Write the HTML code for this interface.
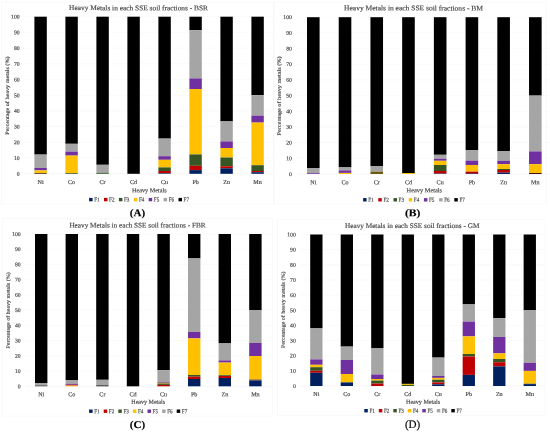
<!DOCTYPE html>
<html lang="en"><head><meta charset="utf-8"><title>Heavy Metals in each SSE soil fractions</title>
<style>html,body{margin:0;padding:0;background:#fff}svg{display:block}text{font-family:"Liberation Serif","DejaVu Serif",serif}.t{stroke:#444;stroke-width:.16}</style></head><body>
<svg width="550" height="432" viewBox="0 0 550 432">
<rect width="550" height="432" fill="#fff"/>
<g id="chart-A">
<rect x="1.6" y="2" width="272" height="202" fill="none" stroke="#f4f4f4" stroke-width="0.5"/>
<line x1="24.9" x2="273.3" y1="173.8" y2="173.8" stroke="#ebebeb" stroke-width="0.5"/>
<text transform="translate(19.6 175.68) rotate(0.05)" class="t" font-size="5.7" fill="#444444" text-anchor="end">0</text>
<line x1="24.9" x2="273.3" y1="158.09" y2="158.09" stroke="#f5f5f5" stroke-width="0.5"/>
<text transform="translate(19.6 159.97) rotate(0.05)" class="t" font-size="5.7" fill="#444444" text-anchor="end">10</text>
<line x1="24.9" x2="273.3" y1="142.38" y2="142.38" stroke="#f5f5f5" stroke-width="0.5"/>
<text transform="translate(19.6 144.26) rotate(0.05)" class="t" font-size="5.7" fill="#444444" text-anchor="end">20</text>
<line x1="24.9" x2="273.3" y1="126.67" y2="126.67" stroke="#f5f5f5" stroke-width="0.5"/>
<text transform="translate(19.6 128.55) rotate(0.05)" class="t" font-size="5.7" fill="#444444" text-anchor="end">30</text>
<line x1="24.9" x2="273.3" y1="110.96" y2="110.96" stroke="#f5f5f5" stroke-width="0.5"/>
<text transform="translate(19.6 112.84) rotate(0.05)" class="t" font-size="5.7" fill="#444444" text-anchor="end">40</text>
<line x1="24.9" x2="273.3" y1="95.25" y2="95.25" stroke="#f5f5f5" stroke-width="0.5"/>
<text transform="translate(19.6 97.13) rotate(0.05)" class="t" font-size="5.7" fill="#444444" text-anchor="end">50</text>
<line x1="24.9" x2="273.3" y1="79.54" y2="79.54" stroke="#f5f5f5" stroke-width="0.5"/>
<text transform="translate(19.6 81.42) rotate(0.05)" class="t" font-size="5.7" fill="#444444" text-anchor="end">60</text>
<line x1="24.9" x2="273.3" y1="63.83" y2="63.83" stroke="#f5f5f5" stroke-width="0.5"/>
<text transform="translate(19.6 65.71) rotate(0.05)" class="t" font-size="5.7" fill="#444444" text-anchor="end">70</text>
<line x1="24.9" x2="273.3" y1="48.12" y2="48.12" stroke="#f5f5f5" stroke-width="0.5"/>
<text transform="translate(19.6 50) rotate(0.05)" class="t" font-size="5.7" fill="#444444" text-anchor="end">80</text>
<line x1="24.9" x2="273.3" y1="32.41" y2="32.41" stroke="#f5f5f5" stroke-width="0.5"/>
<text transform="translate(19.6 34.29) rotate(0.05)" class="t" font-size="5.7" fill="#444444" text-anchor="end">90</text>
<line x1="24.9" x2="273.3" y1="16.7" y2="16.7" stroke="#f5f5f5" stroke-width="0.5"/>
<text transform="translate(19.6 18.58) rotate(0.05)" class="t" font-size="5.7" fill="#444444" text-anchor="end">100</text>
<rect x="34.4" y="16.7" width="12.4" height="137.9" fill="#000000"/>
<rect x="34.4" y="154.6" width="12.4" height="13.4" fill="#A5A5A5"/>
<rect x="34.4" y="168" width="12.4" height="2.4" fill="#7030A0"/>
<rect x="34.4" y="170.4" width="12.4" height="2.6" fill="#FFC000"/>
<rect x="34.4" y="173" width="12.4" height="0.8" fill="#4a2a14"/>
<text transform="translate(40.6 184.01) rotate(0.05)" class="t" font-size="6.1" fill="#444444" text-anchor="middle">Ni</text>
<rect x="65.4" y="16.7" width="12.4" height="127.1" fill="#000000"/>
<rect x="65.4" y="143.8" width="12.4" height="7.8" fill="#A5A5A5"/>
<rect x="65.4" y="151.6" width="12.4" height="4" fill="#7030A0"/>
<rect x="65.4" y="155.6" width="12.4" height="17.4" fill="#FFC000"/>
<rect x="65.4" y="173" width="12.4" height="0.8" fill="#375623"/>
<text transform="translate(71.6 184.01) rotate(0.05)" class="t" font-size="6.1" fill="#444444" text-anchor="middle">Co</text>
<rect x="96.4" y="16.7" width="12.4" height="148.1" fill="#000000"/>
<rect x="96.4" y="164.8" width="12.4" height="8" fill="#A5A5A5"/>
<rect x="96.4" y="172.8" width="12.4" height="1" fill="#375623"/>
<text transform="translate(102.6 184.01) rotate(0.05)" class="t" font-size="6.1" fill="#444444" text-anchor="middle">Cr</text>
<rect x="127.4" y="16.7" width="12.4" height="157.1" fill="#000000"/>
<text transform="translate(133.6 184.01) rotate(0.05)" class="t" font-size="6.1" fill="#444444" text-anchor="middle">Cd</text>
<rect x="158.4" y="16.7" width="12.4" height="121.9" fill="#000000"/>
<rect x="158.4" y="138.6" width="12.4" height="17.6" fill="#A5A5A5"/>
<rect x="158.4" y="156.2" width="12.4" height="3.6" fill="#7030A0"/>
<rect x="158.4" y="159.8" width="12.4" height="7.6" fill="#FFC000"/>
<rect x="158.4" y="167.4" width="12.4" height="3.6" fill="#375623"/>
<rect x="158.4" y="171" width="12.4" height="2.2" fill="#C00000"/>
<rect x="158.4" y="173.2" width="12.4" height="0.6" fill="#002060"/>
<text transform="translate(164.6 184.01) rotate(0.05)" class="t" font-size="6.1" fill="#444444" text-anchor="middle">Cu</text>
<rect x="189.4" y="16.7" width="12.4" height="13.5" fill="#000000"/>
<rect x="189.4" y="30.2" width="12.4" height="48.2" fill="#A5A5A5"/>
<rect x="189.4" y="78.4" width="12.4" height="10.6" fill="#7030A0"/>
<rect x="189.4" y="89" width="12.4" height="65.4" fill="#FFC000"/>
<rect x="189.4" y="154.4" width="12.4" height="11.4" fill="#375623"/>
<rect x="189.4" y="165.8" width="12.4" height="4.3" fill="#C00000"/>
<rect x="189.4" y="170.1" width="12.4" height="3.7" fill="#002060"/>
<text transform="translate(195.6 184.01) rotate(0.05)" class="t" font-size="6.1" fill="#444444" text-anchor="middle">Pb</text>
<rect x="220.4" y="16.7" width="12.4" height="104.7" fill="#000000"/>
<rect x="220.4" y="121.4" width="12.4" height="20" fill="#A5A5A5"/>
<rect x="220.4" y="141.4" width="12.4" height="6.6" fill="#7030A0"/>
<rect x="220.4" y="148" width="12.4" height="9.5" fill="#FFC000"/>
<rect x="220.4" y="157.5" width="12.4" height="8.7" fill="#375623"/>
<rect x="220.4" y="166.2" width="12.4" height="2.1" fill="#C00000"/>
<rect x="220.4" y="168.3" width="12.4" height="5.5" fill="#002060"/>
<text transform="translate(226.6 184.01) rotate(0.05)" class="t" font-size="6.1" fill="#444444" text-anchor="middle">Zn</text>
<rect x="251.4" y="16.7" width="12.4" height="78.5" fill="#000000"/>
<rect x="251.4" y="95.2" width="12.4" height="20.4" fill="#A5A5A5"/>
<rect x="251.4" y="115.6" width="12.4" height="7" fill="#7030A0"/>
<rect x="251.4" y="122.6" width="12.4" height="42.6" fill="#FFC000"/>
<rect x="251.4" y="165.2" width="12.4" height="5.8" fill="#375623"/>
<rect x="251.4" y="171" width="12.4" height="1.2" fill="#C00000"/>
<rect x="251.4" y="172.2" width="12.4" height="1.6" fill="#002060"/>
<text transform="translate(257.6 184.01) rotate(0.05)" class="t" font-size="6.1" fill="#444444" text-anchor="middle">Mn</text>
<text transform="translate(69.1 10.1) rotate(0.05)" class="t" font-size="7.0" fill="#444444" textLength="138.9" lengthAdjust="spacingAndGlyphs">Heavy Metals in each SSE soil fractions - BSR</text>
<text transform="translate(132 192.13) rotate(0.05)" class="t" font-size="6.1" fill="#444444" textLength="34.6" lengthAdjust="spacingAndGlyphs">Heavy Metals</text>
<text transform="translate(8.9 134.8) rotate(-89.95)" class="t" font-size="5.2" fill="#444444" textLength="78.4" lengthAdjust="spacingAndGlyphs">Percentage of heavy metals (%)</text>
<rect x="89.1" y="197.9" width="3.5" height="3.4" fill="#002060"/>
<text transform="translate(94.2 201.58) rotate(0.05)" class="t" font-size="6.0" fill="#444444" textLength="5.4" lengthAdjust="spacingAndGlyphs">F1</text>
<rect x="104" y="197.9" width="3.5" height="3.4" fill="#C00000"/>
<text transform="translate(109.1 201.58) rotate(0.05)" class="t" font-size="6.0" fill="#444444" textLength="5.4" lengthAdjust="spacingAndGlyphs">F2</text>
<rect x="118.9" y="197.9" width="3.5" height="3.4" fill="#375623"/>
<text transform="translate(124 201.58) rotate(0.05)" class="t" font-size="6.0" fill="#444444" textLength="5.4" lengthAdjust="spacingAndGlyphs">F3</text>
<rect x="133.8" y="197.9" width="3.5" height="3.4" fill="#FFC000"/>
<text transform="translate(138.9 201.58) rotate(0.05)" class="t" font-size="6.0" fill="#444444" textLength="5.4" lengthAdjust="spacingAndGlyphs">F4</text>
<rect x="148.7" y="197.9" width="3.5" height="3.4" fill="#7030A0"/>
<text transform="translate(153.8 201.58) rotate(0.05)" class="t" font-size="6.0" fill="#444444" textLength="5.4" lengthAdjust="spacingAndGlyphs">F5</text>
<rect x="163.6" y="197.9" width="3.5" height="3.4" fill="#A5A5A5"/>
<text transform="translate(168.7 201.58) rotate(0.05)" class="t" font-size="6.0" fill="#444444" textLength="5.4" lengthAdjust="spacingAndGlyphs">F6</text>
<rect x="178.5" y="197.9" width="3.5" height="3.4" fill="#000000"/>
<text transform="translate(183.6 201.58) rotate(0.05)" class="t" font-size="6.0" fill="#444444" textLength="5.4" lengthAdjust="spacingAndGlyphs">F7</text>
<text transform="translate(129.8 216.2) rotate(0.05)" font-size="10.4" font-weight="bold" fill="#000" stroke="#000" stroke-width="0.15" textLength="15.4" lengthAdjust="spacingAndGlyphs">(A)</text>
</g>
<g id="chart-B">
<rect x="274" y="2" width="272.5" height="202" fill="none" stroke="#f4f4f4" stroke-width="0.5"/>
<line x1="297.5" x2="551.14" y1="174" y2="174" stroke="#ebebeb" stroke-width="0.5"/>
<text transform="translate(291.9 175.88) rotate(0.05)" class="t" font-size="5.7" fill="#444444" text-anchor="end">0</text>
<line x1="297.5" x2="551.14" y1="158.32" y2="158.32" stroke="#f5f5f5" stroke-width="0.5"/>
<text transform="translate(291.9 160.2) rotate(0.05)" class="t" font-size="5.7" fill="#444444" text-anchor="end">10</text>
<line x1="297.5" x2="551.14" y1="142.64" y2="142.64" stroke="#f5f5f5" stroke-width="0.5"/>
<text transform="translate(291.9 144.52) rotate(0.05)" class="t" font-size="5.7" fill="#444444" text-anchor="end">20</text>
<line x1="297.5" x2="551.14" y1="126.96" y2="126.96" stroke="#f5f5f5" stroke-width="0.5"/>
<text transform="translate(291.9 128.84) rotate(0.05)" class="t" font-size="5.7" fill="#444444" text-anchor="end">30</text>
<line x1="297.5" x2="551.14" y1="111.28" y2="111.28" stroke="#f5f5f5" stroke-width="0.5"/>
<text transform="translate(291.9 113.16) rotate(0.05)" class="t" font-size="5.7" fill="#444444" text-anchor="end">40</text>
<line x1="297.5" x2="551.14" y1="95.6" y2="95.6" stroke="#f5f5f5" stroke-width="0.5"/>
<text transform="translate(291.9 97.48) rotate(0.05)" class="t" font-size="5.7" fill="#444444" text-anchor="end">50</text>
<line x1="297.5" x2="551.14" y1="79.92" y2="79.92" stroke="#f5f5f5" stroke-width="0.5"/>
<text transform="translate(291.9 81.8) rotate(0.05)" class="t" font-size="5.7" fill="#444444" text-anchor="end">60</text>
<line x1="297.5" x2="551.14" y1="64.24" y2="64.24" stroke="#f5f5f5" stroke-width="0.5"/>
<text transform="translate(291.9 66.12) rotate(0.05)" class="t" font-size="5.7" fill="#444444" text-anchor="end">70</text>
<line x1="297.5" x2="551.14" y1="48.56" y2="48.56" stroke="#f5f5f5" stroke-width="0.5"/>
<text transform="translate(291.9 50.44) rotate(0.05)" class="t" font-size="5.7" fill="#444444" text-anchor="end">80</text>
<line x1="297.5" x2="551.14" y1="32.88" y2="32.88" stroke="#f5f5f5" stroke-width="0.5"/>
<text transform="translate(291.9 34.76) rotate(0.05)" class="t" font-size="5.7" fill="#444444" text-anchor="end">90</text>
<line x1="297.5" x2="551.14" y1="17.2" y2="17.2" stroke="#f5f5f5" stroke-width="0.5"/>
<text transform="translate(291.9 19.08) rotate(0.05)" class="t" font-size="5.7" fill="#444444" text-anchor="end">100</text>
<rect x="307" y="17.2" width="12.6" height="150.8" fill="#000000"/>
<rect x="307" y="168" width="12.6" height="5.2" fill="#A5A5A5"/>
<rect x="307" y="173.2" width="12.6" height="0.8" fill="#7030A0"/>
<text transform="translate(313.3 184.21) rotate(0.05)" class="t" font-size="6.1" fill="#444444" text-anchor="middle">Ni</text>
<rect x="338.72" y="17.2" width="12.6" height="150.2" fill="#000000"/>
<rect x="338.72" y="167.4" width="12.6" height="3" fill="#A5A5A5"/>
<rect x="338.72" y="170.4" width="12.6" height="2.5" fill="#7030A0"/>
<rect x="338.72" y="172.9" width="12.6" height="1.1" fill="#FFC000"/>
<text transform="translate(345.02 184.21) rotate(0.05)" class="t" font-size="6.1" fill="#444444" text-anchor="middle">Co</text>
<rect x="370.44" y="17.2" width="12.6" height="148.8" fill="#000000"/>
<rect x="370.44" y="166" width="12.6" height="5.6" fill="#A5A5A5"/>
<rect x="370.44" y="171.6" width="12.6" height="2.4" fill="#6b5a10"/>
<text transform="translate(376.74 184.21) rotate(0.05)" class="t" font-size="6.1" fill="#444444" text-anchor="middle">Cr</text>
<rect x="402.16" y="17.2" width="12.6" height="155.8" fill="#000000"/>
<rect x="402.16" y="173" width="12.6" height="1" fill="#FFC000"/>
<text transform="translate(408.46 184.21) rotate(0.05)" class="t" font-size="6.1" fill="#444444" text-anchor="middle">Cd</text>
<rect x="433.88" y="17.2" width="12.6" height="137.6" fill="#000000"/>
<rect x="433.88" y="154.8" width="12.6" height="4" fill="#A5A5A5"/>
<rect x="433.88" y="158.8" width="12.6" height="2" fill="#7030A0"/>
<rect x="433.88" y="160.8" width="12.6" height="4.2" fill="#FFC000"/>
<rect x="433.88" y="165" width="12.6" height="6" fill="#375623"/>
<rect x="433.88" y="171" width="12.6" height="2.6" fill="#C00000"/>
<rect x="433.88" y="173.6" width="12.6" height="0.4" fill="#002060"/>
<text transform="translate(440.18 184.21) rotate(0.05)" class="t" font-size="6.1" fill="#444444" text-anchor="middle">Cu</text>
<rect x="465.6" y="17.2" width="12.6" height="132.8" fill="#000000"/>
<rect x="465.6" y="150" width="12.6" height="10.6" fill="#A5A5A5"/>
<rect x="465.6" y="160.6" width="12.6" height="4.4" fill="#7030A0"/>
<rect x="465.6" y="165" width="12.6" height="6.6" fill="#FFC000"/>
<rect x="465.6" y="171.6" width="12.6" height="1.6" fill="#C00000"/>
<rect x="465.6" y="173.2" width="12.6" height="0.8" fill="#4a0a20"/>
<text transform="translate(471.9 184.21) rotate(0.05)" class="t" font-size="6.1" fill="#444444" text-anchor="middle">Pb</text>
<rect x="497.32" y="17.2" width="12.6" height="133.8" fill="#000000"/>
<rect x="497.32" y="151" width="12.6" height="9.8" fill="#A5A5A5"/>
<rect x="497.32" y="160.8" width="12.6" height="3.4" fill="#7030A0"/>
<rect x="497.32" y="164.2" width="12.6" height="4.8" fill="#FFC000"/>
<rect x="497.32" y="169" width="12.6" height="1" fill="#375623"/>
<rect x="497.32" y="170" width="12.6" height="2.6" fill="#C00000"/>
<rect x="497.32" y="172.6" width="12.6" height="1.4" fill="#002060"/>
<text transform="translate(503.62 184.21) rotate(0.05)" class="t" font-size="6.1" fill="#444444" text-anchor="middle">Zn</text>
<rect x="529.04" y="17.2" width="12.6" height="78.4" fill="#000000"/>
<rect x="529.04" y="95.6" width="12.6" height="55.8" fill="#A5A5A5"/>
<rect x="529.04" y="151.4" width="12.6" height="12.8" fill="#7030A0"/>
<rect x="529.04" y="164.2" width="12.6" height="8.8" fill="#FFC000"/>
<rect x="529.04" y="173" width="12.6" height="1" fill="#4a0a20"/>
<text transform="translate(535.34 184.21) rotate(0.05)" class="t" font-size="6.1" fill="#444444" text-anchor="middle">Mn</text>
<text transform="translate(344.1 10.3) rotate(0.05)" class="t" font-size="7.0" fill="#444444" textLength="138.9" lengthAdjust="spacingAndGlyphs">Heavy Metals in each SSE soil fractions - BM</text>
<text transform="translate(406.6 192.23) rotate(0.05)" class="t" font-size="6.1" fill="#444444" textLength="35.4" lengthAdjust="spacingAndGlyphs">Heavy Metals</text>
<text transform="translate(280.8 135.4) rotate(-89.95)" class="t" font-size="5.2" fill="#444444" textLength="78.9" lengthAdjust="spacingAndGlyphs">Percentage of heavy metals (%)</text>
<rect x="363.1" y="198.1" width="3.5" height="3.4" fill="#002060"/>
<text transform="translate(368.2 201.78) rotate(0.05)" class="t" font-size="6.0" fill="#444444" textLength="5.4" lengthAdjust="spacingAndGlyphs">F1</text>
<rect x="378.3" y="198.1" width="3.5" height="3.4" fill="#C00000"/>
<text transform="translate(383.4 201.78) rotate(0.05)" class="t" font-size="6.0" fill="#444444" textLength="5.4" lengthAdjust="spacingAndGlyphs">F2</text>
<rect x="393.5" y="198.1" width="3.5" height="3.4" fill="#375623"/>
<text transform="translate(398.6 201.78) rotate(0.05)" class="t" font-size="6.0" fill="#444444" textLength="5.4" lengthAdjust="spacingAndGlyphs">F3</text>
<rect x="408.7" y="198.1" width="3.5" height="3.4" fill="#FFC000"/>
<text transform="translate(413.8 201.78) rotate(0.05)" class="t" font-size="6.0" fill="#444444" textLength="5.4" lengthAdjust="spacingAndGlyphs">F4</text>
<rect x="423.9" y="198.1" width="3.5" height="3.4" fill="#7030A0"/>
<text transform="translate(429 201.78) rotate(0.05)" class="t" font-size="6.0" fill="#444444" textLength="5.4" lengthAdjust="spacingAndGlyphs">F5</text>
<rect x="439.1" y="198.1" width="3.5" height="3.4" fill="#A5A5A5"/>
<text transform="translate(444.2 201.78) rotate(0.05)" class="t" font-size="6.0" fill="#444444" textLength="5.4" lengthAdjust="spacingAndGlyphs">F6</text>
<rect x="454.3" y="198.1" width="3.5" height="3.4" fill="#000000"/>
<text transform="translate(459.4 201.78) rotate(0.05)" class="t" font-size="6.0" fill="#444444" textLength="5.4" lengthAdjust="spacingAndGlyphs">F7</text>
<text transform="translate(404.9 216.2) rotate(0.05)" font-size="10.4" font-weight="bold" fill="#000" stroke="#000" stroke-width="0.15" textLength="15.4" lengthAdjust="spacingAndGlyphs">(B)</text>
</g>
<g id="chart-C">
<rect x="2.4" y="218.6" width="269.9" height="197.4" fill="none" stroke="#f4f4f4" stroke-width="0.5"/>
<line x1="25.5" x2="271.1" y1="386.3" y2="386.3" stroke="#ebebeb" stroke-width="0.5"/>
<text transform="translate(20.7 388.18) rotate(0.05)" class="t" font-size="5.7" fill="#444444" text-anchor="end">0</text>
<line x1="25.5" x2="271.1" y1="371.07" y2="371.07" stroke="#f5f5f5" stroke-width="0.5"/>
<text transform="translate(20.7 372.95) rotate(0.05)" class="t" font-size="5.7" fill="#444444" text-anchor="end">10</text>
<line x1="25.5" x2="271.1" y1="355.84" y2="355.84" stroke="#f5f5f5" stroke-width="0.5"/>
<text transform="translate(20.7 357.72) rotate(0.05)" class="t" font-size="5.7" fill="#444444" text-anchor="end">20</text>
<line x1="25.5" x2="271.1" y1="340.61" y2="340.61" stroke="#f5f5f5" stroke-width="0.5"/>
<text transform="translate(20.7 342.49) rotate(0.05)" class="t" font-size="5.7" fill="#444444" text-anchor="end">30</text>
<line x1="25.5" x2="271.1" y1="325.38" y2="325.38" stroke="#f5f5f5" stroke-width="0.5"/>
<text transform="translate(20.7 327.26) rotate(0.05)" class="t" font-size="5.7" fill="#444444" text-anchor="end">40</text>
<line x1="25.5" x2="271.1" y1="310.15" y2="310.15" stroke="#f5f5f5" stroke-width="0.5"/>
<text transform="translate(20.7 312.03) rotate(0.05)" class="t" font-size="5.7" fill="#444444" text-anchor="end">50</text>
<line x1="25.5" x2="271.1" y1="294.92" y2="294.92" stroke="#f5f5f5" stroke-width="0.5"/>
<text transform="translate(20.7 296.8) rotate(0.05)" class="t" font-size="5.7" fill="#444444" text-anchor="end">60</text>
<line x1="25.5" x2="271.1" y1="279.69" y2="279.69" stroke="#f5f5f5" stroke-width="0.5"/>
<text transform="translate(20.7 281.57) rotate(0.05)" class="t" font-size="5.7" fill="#444444" text-anchor="end">70</text>
<line x1="25.5" x2="271.1" y1="264.46" y2="264.46" stroke="#f5f5f5" stroke-width="0.5"/>
<text transform="translate(20.7 266.34) rotate(0.05)" class="t" font-size="5.7" fill="#444444" text-anchor="end">80</text>
<line x1="25.5" x2="271.1" y1="249.23" y2="249.23" stroke="#f5f5f5" stroke-width="0.5"/>
<text transform="translate(20.7 251.11) rotate(0.05)" class="t" font-size="5.7" fill="#444444" text-anchor="end">90</text>
<line x1="25.5" x2="271.1" y1="234" y2="234" stroke="#f5f5f5" stroke-width="0.5"/>
<text transform="translate(20.7 235.88) rotate(0.05)" class="t" font-size="5.7" fill="#444444" text-anchor="end">100</text>
<rect x="35" y="234" width="12.4" height="149" fill="#000000"/>
<rect x="35" y="383" width="12.4" height="1.8" fill="#A5A5A5"/>
<rect x="35" y="384.8" width="12.4" height="1.6" fill="#77777d"/>
<text transform="translate(41.2 396.21) rotate(0.05)" class="t" font-size="6.1" fill="#444444" text-anchor="middle">Ni</text>
<rect x="65.6" y="234" width="12.4" height="146" fill="#000000"/>
<rect x="65.6" y="380" width="12.4" height="3.8" fill="#A5A5A5"/>
<rect x="65.6" y="383.8" width="12.4" height="1" fill="#7030A0"/>
<rect x="65.6" y="384.8" width="12.4" height="0.8" fill="#C00000"/>
<rect x="65.6" y="385.6" width="12.4" height="0.7" fill="#FFC000"/>
<text transform="translate(71.8 396.21) rotate(0.05)" class="t" font-size="6.1" fill="#444444" text-anchor="middle">Co</text>
<rect x="96.2" y="234" width="12.4" height="145.8" fill="#000000"/>
<rect x="96.2" y="379.8" width="12.4" height="5.2" fill="#A5A5A5"/>
<rect x="96.2" y="385" width="12.4" height="1.4" fill="#5c5c5c"/>
<text transform="translate(102.4 396.21) rotate(0.05)" class="t" font-size="6.1" fill="#444444" text-anchor="middle">Cr</text>
<rect x="126.8" y="234" width="12.4" height="152.3" fill="#000000"/>
<text transform="translate(133 396.21) rotate(0.05)" class="t" font-size="6.1" fill="#444444" text-anchor="middle">Cd</text>
<rect x="157.4" y="234" width="12.4" height="136.2" fill="#000000"/>
<rect x="157.4" y="370.2" width="12.4" height="11.8" fill="#A5A5A5"/>
<rect x="157.4" y="382" width="12.4" height="0.8" fill="#7030A0"/>
<rect x="157.4" y="382.8" width="12.4" height="0.7" fill="#FFC000"/>
<rect x="157.4" y="383.5" width="12.4" height="1.4" fill="#375623"/>
<rect x="157.4" y="384.9" width="12.4" height="1.4" fill="#C00000"/>
<text transform="translate(163.6 396.21) rotate(0.05)" class="t" font-size="6.1" fill="#444444" text-anchor="middle">Cu</text>
<rect x="188" y="234" width="12.4" height="24.4" fill="#000000"/>
<rect x="188" y="258.4" width="12.4" height="73.6" fill="#A5A5A5"/>
<rect x="188" y="332" width="12.4" height="6.4" fill="#7030A0"/>
<rect x="188" y="338.4" width="12.4" height="36.6" fill="#FFC000"/>
<rect x="188" y="375" width="12.4" height="1.7" fill="#375623"/>
<rect x="188" y="376.7" width="12.4" height="2.3" fill="#C00000"/>
<rect x="188" y="379" width="12.4" height="7.3" fill="#002060"/>
<text transform="translate(194.2 396.21) rotate(0.05)" class="t" font-size="6.1" fill="#444444" text-anchor="middle">Pb</text>
<rect x="218.6" y="234" width="12.4" height="109.4" fill="#000000"/>
<rect x="218.6" y="343.4" width="12.4" height="17" fill="#A5A5A5"/>
<rect x="218.6" y="360.4" width="12.4" height="2.2" fill="#7030A0"/>
<rect x="218.6" y="362.6" width="12.4" height="12.6" fill="#FFC000"/>
<rect x="218.6" y="375.2" width="12.4" height="0.8" fill="#375623"/>
<rect x="218.6" y="376" width="12.4" height="2" fill="#C00000"/>
<rect x="218.6" y="378" width="12.4" height="8.3" fill="#002060"/>
<text transform="translate(224.8 396.21) rotate(0.05)" class="t" font-size="6.1" fill="#444444" text-anchor="middle">Zn</text>
<rect x="249.2" y="234" width="12.4" height="76" fill="#000000"/>
<rect x="249.2" y="310" width="12.4" height="33" fill="#A5A5A5"/>
<rect x="249.2" y="343" width="12.4" height="13" fill="#7030A0"/>
<rect x="249.2" y="356" width="12.4" height="23.6" fill="#FFC000"/>
<rect x="249.2" y="379.6" width="12.4" height="0.9" fill="#4a2a14"/>
<rect x="249.2" y="380.5" width="12.4" height="5.8" fill="#002060"/>
<text transform="translate(255.4 396.21) rotate(0.05)" class="t" font-size="6.1" fill="#444444" text-anchor="middle">Mn</text>
<text transform="translate(69.4 227.4) rotate(0.05)" class="t" font-size="7.0" fill="#444444" textLength="136.2" lengthAdjust="spacingAndGlyphs">Heavy Metals in each SSE soil fractions - FBR</text>
<text transform="translate(131.3 403.83) rotate(0.05)" class="t" font-size="6.1" fill="#444444" textLength="33.7" lengthAdjust="spacingAndGlyphs">Heavy Metals</text>
<text transform="translate(9.8 348.6) rotate(-89.95)" class="t" font-size="5.2" fill="#444444" textLength="76.3" lengthAdjust="spacingAndGlyphs">Percentage of heavy metals (%)</text>
<rect x="89.1" y="409.5" width="3.5" height="3.4" fill="#002060"/>
<text transform="translate(94.2 413.18) rotate(0.05)" class="t" font-size="6.0" fill="#444444" textLength="5.4" lengthAdjust="spacingAndGlyphs">F1</text>
<rect x="103.7" y="409.5" width="3.5" height="3.4" fill="#C00000"/>
<text transform="translate(108.8 413.18) rotate(0.05)" class="t" font-size="6.0" fill="#444444" textLength="5.4" lengthAdjust="spacingAndGlyphs">F2</text>
<rect x="118.3" y="409.5" width="3.5" height="3.4" fill="#375623"/>
<text transform="translate(123.4 413.18) rotate(0.05)" class="t" font-size="6.0" fill="#444444" textLength="5.4" lengthAdjust="spacingAndGlyphs">F3</text>
<rect x="132.9" y="409.5" width="3.5" height="3.4" fill="#FFC000"/>
<text transform="translate(138 413.18) rotate(0.05)" class="t" font-size="6.0" fill="#444444" textLength="5.4" lengthAdjust="spacingAndGlyphs">F4</text>
<rect x="147.5" y="409.5" width="3.5" height="3.4" fill="#7030A0"/>
<text transform="translate(152.6 413.18) rotate(0.05)" class="t" font-size="6.0" fill="#444444" textLength="5.4" lengthAdjust="spacingAndGlyphs">F5</text>
<rect x="162.1" y="409.5" width="3.5" height="3.4" fill="#A5A5A5"/>
<text transform="translate(167.2 413.18) rotate(0.05)" class="t" font-size="6.0" fill="#444444" textLength="5.4" lengthAdjust="spacingAndGlyphs">F6</text>
<rect x="176.7" y="409.5" width="3.5" height="3.4" fill="#000000"/>
<text transform="translate(181.8 413.18) rotate(0.05)" class="t" font-size="6.0" fill="#444444" textLength="5.4" lengthAdjust="spacingAndGlyphs">F7</text>
<text transform="translate(129.7 428) rotate(0.05)" font-size="10.4" font-weight="bold" fill="#000" stroke="#000" stroke-width="0.15" textLength="15.4" lengthAdjust="spacingAndGlyphs">(C)</text>
</g>
<g id="chart-D">
<rect x="277.4" y="219.2" width="267.6" height="196.2" fill="none" stroke="#f4f4f4" stroke-width="0.5"/>
<line x1="300.7" x2="545.43" y1="386" y2="386" stroke="#ebebeb" stroke-width="0.5"/>
<text transform="translate(295.8 387.88) rotate(0.05)" class="t" font-size="5.7" fill="#444444" text-anchor="end">0</text>
<line x1="300.7" x2="545.43" y1="370.85" y2="370.85" stroke="#f5f5f5" stroke-width="0.5"/>
<text transform="translate(295.8 372.73) rotate(0.05)" class="t" font-size="5.7" fill="#444444" text-anchor="end">10</text>
<line x1="300.7" x2="545.43" y1="355.7" y2="355.7" stroke="#f5f5f5" stroke-width="0.5"/>
<text transform="translate(295.8 357.58) rotate(0.05)" class="t" font-size="5.7" fill="#444444" text-anchor="end">20</text>
<line x1="300.7" x2="545.43" y1="340.55" y2="340.55" stroke="#f5f5f5" stroke-width="0.5"/>
<text transform="translate(295.8 342.43) rotate(0.05)" class="t" font-size="5.7" fill="#444444" text-anchor="end">30</text>
<line x1="300.7" x2="545.43" y1="325.4" y2="325.4" stroke="#f5f5f5" stroke-width="0.5"/>
<text transform="translate(295.8 327.28) rotate(0.05)" class="t" font-size="5.7" fill="#444444" text-anchor="end">40</text>
<line x1="300.7" x2="545.43" y1="310.25" y2="310.25" stroke="#f5f5f5" stroke-width="0.5"/>
<text transform="translate(295.8 312.13) rotate(0.05)" class="t" font-size="5.7" fill="#444444" text-anchor="end">50</text>
<line x1="300.7" x2="545.43" y1="295.1" y2="295.1" stroke="#f5f5f5" stroke-width="0.5"/>
<text transform="translate(295.8 296.98) rotate(0.05)" class="t" font-size="5.7" fill="#444444" text-anchor="end">60</text>
<line x1="300.7" x2="545.43" y1="279.95" y2="279.95" stroke="#f5f5f5" stroke-width="0.5"/>
<text transform="translate(295.8 281.83) rotate(0.05)" class="t" font-size="5.7" fill="#444444" text-anchor="end">70</text>
<line x1="300.7" x2="545.43" y1="264.8" y2="264.8" stroke="#f5f5f5" stroke-width="0.5"/>
<text transform="translate(295.8 266.68) rotate(0.05)" class="t" font-size="5.7" fill="#444444" text-anchor="end">80</text>
<line x1="300.7" x2="545.43" y1="249.65" y2="249.65" stroke="#f5f5f5" stroke-width="0.5"/>
<text transform="translate(295.8 251.53) rotate(0.05)" class="t" font-size="5.7" fill="#444444" text-anchor="end">90</text>
<line x1="300.7" x2="545.43" y1="234.5" y2="234.5" stroke="#f5f5f5" stroke-width="0.5"/>
<text transform="translate(295.8 236.38) rotate(0.05)" class="t" font-size="5.7" fill="#444444" text-anchor="end">100</text>
<rect x="310.2" y="234.5" width="12.3" height="93.9" fill="#000000"/>
<rect x="310.2" y="328.4" width="12.3" height="31" fill="#A5A5A5"/>
<rect x="310.2" y="359.4" width="12.3" height="5.4" fill="#7030A0"/>
<rect x="310.2" y="364.8" width="12.3" height="2.4" fill="#FFC000"/>
<rect x="310.2" y="367.2" width="12.3" height="3.6" fill="#375623"/>
<rect x="310.2" y="370.8" width="12.3" height="2" fill="#C00000"/>
<rect x="310.2" y="372.8" width="12.3" height="13.2" fill="#002060"/>
<text transform="translate(316.35 396.01) rotate(0.05)" class="t" font-size="6.1" fill="#444444" text-anchor="middle">Ni</text>
<rect x="340.69" y="234.5" width="12.3" height="112.1" fill="#000000"/>
<rect x="340.69" y="346.6" width="12.3" height="13.4" fill="#A5A5A5"/>
<rect x="340.69" y="360" width="12.3" height="14" fill="#7030A0"/>
<rect x="340.69" y="374" width="12.3" height="8.4" fill="#FFC000"/>
<rect x="340.69" y="382.4" width="12.3" height="3.6" fill="#002060"/>
<text transform="translate(346.84 396.01) rotate(0.05)" class="t" font-size="6.1" fill="#444444" text-anchor="middle">Co</text>
<rect x="371.18" y="234.5" width="12.3" height="113.5" fill="#000000"/>
<rect x="371.18" y="348" width="12.3" height="26.5" fill="#A5A5A5"/>
<rect x="371.18" y="374.5" width="12.3" height="4.5" fill="#7030A0"/>
<rect x="371.18" y="379" width="12.3" height="1.6" fill="#FFC000"/>
<rect x="371.18" y="380.6" width="12.3" height="3" fill="#375623"/>
<rect x="371.18" y="383.6" width="12.3" height="2.4" fill="#C00000"/>
<text transform="translate(377.33 396.01) rotate(0.05)" class="t" font-size="6.1" fill="#444444" text-anchor="middle">Cr</text>
<rect x="401.67" y="234.5" width="12.3" height="149.4" fill="#000000"/>
<rect x="401.67" y="383.9" width="12.3" height="1" fill="#FFC000"/>
<rect x="401.67" y="384.9" width="12.3" height="1.1" fill="#375623"/>
<text transform="translate(407.82 396.01) rotate(0.05)" class="t" font-size="6.1" fill="#444444" text-anchor="middle">Cd</text>
<rect x="432.16" y="234.5" width="12.3" height="123.1" fill="#000000"/>
<rect x="432.16" y="357.6" width="12.3" height="18.4" fill="#A5A5A5"/>
<rect x="432.16" y="376" width="12.3" height="1.9" fill="#7030A0"/>
<rect x="432.16" y="377.9" width="12.3" height="1.8" fill="#FFC000"/>
<rect x="432.16" y="379.7" width="12.3" height="2.7" fill="#375623"/>
<rect x="432.16" y="382.4" width="12.3" height="1.9" fill="#C00000"/>
<rect x="432.16" y="384.3" width="12.3" height="1.7" fill="#002060"/>
<text transform="translate(438.31 396.01) rotate(0.05)" class="t" font-size="6.1" fill="#444444" text-anchor="middle">Cu</text>
<rect x="462.65" y="234.5" width="12.3" height="69.9" fill="#000000"/>
<rect x="462.65" y="304.4" width="12.3" height="17.2" fill="#A5A5A5"/>
<rect x="462.65" y="321.6" width="12.3" height="14.8" fill="#7030A0"/>
<rect x="462.65" y="336.4" width="12.3" height="17.6" fill="#FFC000"/>
<rect x="462.65" y="354" width="12.3" height="2.4" fill="#375623"/>
<rect x="462.65" y="356.4" width="12.3" height="18.5" fill="#C00000"/>
<rect x="462.65" y="374.9" width="12.3" height="11.1" fill="#002060"/>
<text transform="translate(468.8 396.01) rotate(0.05)" class="t" font-size="6.1" fill="#444444" text-anchor="middle">Pb</text>
<rect x="493.14" y="234.5" width="12.3" height="83.7" fill="#000000"/>
<rect x="493.14" y="318.2" width="12.3" height="18.8" fill="#A5A5A5"/>
<rect x="493.14" y="337" width="12.3" height="16.4" fill="#7030A0"/>
<rect x="493.14" y="353.4" width="12.3" height="5.6" fill="#FFC000"/>
<rect x="493.14" y="359" width="12.3" height="3.2" fill="#375623"/>
<rect x="493.14" y="362.2" width="12.3" height="4.2" fill="#C00000"/>
<rect x="493.14" y="366.4" width="12.3" height="19.6" fill="#002060"/>
<text transform="translate(499.29 396.01) rotate(0.05)" class="t" font-size="6.1" fill="#444444" text-anchor="middle">Zn</text>
<rect x="523.63" y="234.5" width="12.3" height="75.5" fill="#000000"/>
<rect x="523.63" y="310" width="12.3" height="52.9" fill="#A5A5A5"/>
<rect x="523.63" y="362.9" width="12.3" height="8" fill="#7030A0"/>
<rect x="523.63" y="370.9" width="12.3" height="12.8" fill="#FFC000"/>
<rect x="523.63" y="383.7" width="12.3" height="0.4" fill="#375623"/>
<rect x="523.63" y="384.1" width="12.3" height="1.9" fill="#002060"/>
<text transform="translate(529.78 396.01) rotate(0.05)" class="t" font-size="6.1" fill="#444444" text-anchor="middle">Mn</text>
<text transform="translate(345 228) rotate(0.05)" class="t" font-size="7.0" fill="#444444" textLength="134.4" lengthAdjust="spacingAndGlyphs">Heavy Metals in each SSE soil fractions - GM</text>
<text transform="translate(406 403.63) rotate(0.05)" class="t" font-size="6.1" fill="#444444" textLength="34" lengthAdjust="spacingAndGlyphs">Heavy Metals</text>
<text transform="translate(284.8 348) rotate(-89.95)" class="t" font-size="5.2" fill="#444444" textLength="76.4" lengthAdjust="spacingAndGlyphs">Percentage of heavy metals (%)</text>
<rect x="364.3" y="409" width="3.5" height="3.4" fill="#002060"/>
<text transform="translate(369.4 412.68) rotate(0.05)" class="t" font-size="6.0" fill="#444444" textLength="5.4" lengthAdjust="spacingAndGlyphs">F1</text>
<rect x="378.8" y="409" width="3.5" height="3.4" fill="#C00000"/>
<text transform="translate(383.9 412.68) rotate(0.05)" class="t" font-size="6.0" fill="#444444" textLength="5.4" lengthAdjust="spacingAndGlyphs">F2</text>
<rect x="393.3" y="409" width="3.5" height="3.4" fill="#375623"/>
<text transform="translate(398.4 412.68) rotate(0.05)" class="t" font-size="6.0" fill="#444444" textLength="5.4" lengthAdjust="spacingAndGlyphs">F3</text>
<rect x="407.8" y="409" width="3.5" height="3.4" fill="#FFC000"/>
<text transform="translate(412.9 412.68) rotate(0.05)" class="t" font-size="6.0" fill="#444444" textLength="5.4" lengthAdjust="spacingAndGlyphs">F4</text>
<rect x="422.3" y="409" width="3.5" height="3.4" fill="#7030A0"/>
<text transform="translate(427.4 412.68) rotate(0.05)" class="t" font-size="6.0" fill="#444444" textLength="5.4" lengthAdjust="spacingAndGlyphs">F5</text>
<rect x="436.8" y="409" width="3.5" height="3.4" fill="#A5A5A5"/>
<text transform="translate(441.9 412.68) rotate(0.05)" class="t" font-size="6.0" fill="#444444" textLength="5.4" lengthAdjust="spacingAndGlyphs">F6</text>
<rect x="451.3" y="409" width="3.5" height="3.4" fill="#000000"/>
<text transform="translate(456.4 412.68) rotate(0.05)" class="t" font-size="6.0" fill="#444444" textLength="5.4" lengthAdjust="spacingAndGlyphs">F7</text>
<text transform="translate(404.9 428) rotate(0.05)" font-size="11.3" font-weight="normal" fill="#000" stroke="#000" stroke-width="0.15" textLength="15.4" lengthAdjust="spacingAndGlyphs">(D)</text>
</g>
</svg></body></html>
